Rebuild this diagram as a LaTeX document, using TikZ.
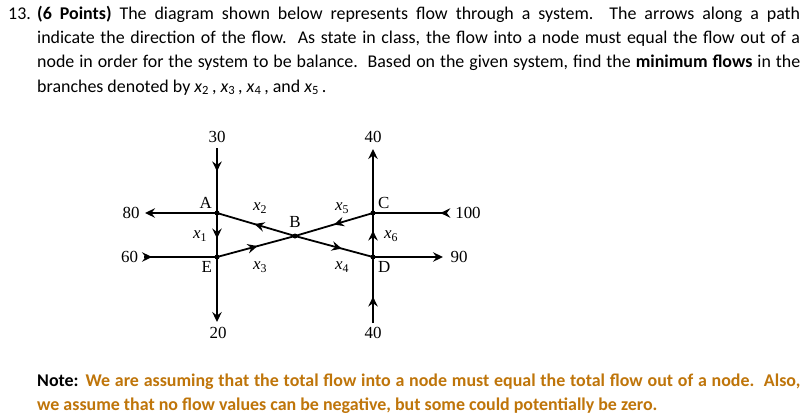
\documentclass[tikz,border=0pt]{standalone}
\usepackage{fontspec}
\setmainfont{Carlito}
\newfontfamily\diagfont{Liberation Serif}
\usepackage{xcolor}
\usetikzlibrary{arrows.meta,positioning,decorations.markings}
\definecolor{noteOrange}{RGB}{191,117,10}
\tikzstyle{junction}=[circle, fill, inner sep=0pt, minimum size=5bp]
\tikzstyle{flowline}=[line width=1.8bp]
\tikzstyle{flowlabel}=[font=\diagfont\fontsize{17}{17}\selectfont, inner sep=0pt]
\tikzstyle{qline}=[anchor=base west, inner sep=0pt, font=\fontsize{18}{22}\selectfont]
\tikzset{flowtip/.tip={Stealth[length=10bp,width=9.5bp,inset=3.5bp]}}
\tikzset{flowmark/.style={postaction={decorate,decoration={markings,mark=at position #1 with {\arrow{flowtip}}}}}}
\newcommand{\xvar}[1]{{\itshape x}\textsubscript{#1}}
\newcommand{\fullline}[1]{\makebox[763bp][s]{#1}}

\begin{document}
\begin{tikzpicture}[x=1bp,y=-1bp]
	\path[use as bounding box, fill=white] (0,0) rectangle (805,418);

	%%% question text
	\node[qline] (qNum) at (8,19.3) {13.};
	\node[qline] (qLine1) at (37,19.3) {\fullline{\textbf{(6 Points)} The diagram shown below represents flow through a system.\ \ The arrows along a path}};
	\node[qline] (qLine2) at (37,43.6) {\fullline{indicate the direction of the flow.\ \ As state in class, the flow into a node must equal the flow out of a}};
	\node[qline] (qLine3) at (37,67.9) {\fullline{node in order for the system to be balance.\ \ Based on the given system, find the \textbf{minimum flows} in the}};
	\node[qline] (qLine4) at (37,92.2) {branches denoted by \xvar{2}\,, \xvar{3}\,, \xvar{4}\,, and \xvar{5}\,.};

	%%% junctions
	\node[junction] (A) at (217,213) {};
	\node[junction] (B) at (295,236) {};
	\node[junction] (C) at (373,213) {};
	\node[junction] (D) at (373,257) {};
	\node[junction] (E) at (217,257) {};

	% free ends of the branches
	\coordinate (in30) at (217,148);
	\coordinate (out80) at (145,213);
	\coordinate (in60) at (144,257);
	\coordinate (out20) at (217,322);
	\coordinate (out40) at (373,149);
	\coordinate (in40) at (373,323);
	\coordinate (in100) at (447,213);
	\coordinate (out90) at (443,257);

	%%% outer branches
	\draw[flowline,flowmark=0.36] (in30) -- (A.center);
	\draw[flowline,-flowtip] (A.center) -- (out80);
	\draw[flowline,flowmark=0.11] (in60) -- (E.center);
	\draw[flowline,-flowtip] (E.center) -- (out20);
	\draw[flowline,-flowtip] (C.center) -- (out40);
	\draw[flowline,flowmark=0.4] (in40) -- (D.center);
	\draw[flowline,flowmark=0.09] (in100) -- (C.center);
	\draw[flowline,-flowtip] (D.center) -- (out90);

	%%% inner branches
	\draw[flowline,flowmark=0.58] (A.center) -- (E.center);
	\draw[flowline,flowmark=0.52] (B.center) -- (A.center);
	\draw[flowline,flowmark=0.52] (E.center) -- (B.center);
	\draw[flowline,flowmark=0.5] (C.center) -- (B.center);
	\draw[flowline,flowmark=0.6] (B.center) -- (D.center);
	\draw[flowline,flowmark=0.6] (D.center) -- (C.center);

	%%% junction names
	\node[flowlabel,above left=2bp and 3bp of A] (labA) {A};
	\node[flowlabel,above=6bp of B] (labB) {B};
	\node[flowlabel,above right=2bp and 3bp of C] (labC) {C};
	\node[flowlabel,below right=2bp and 3bp of D] (labD) {D};
	\node[flowlabel,below left=2bp and 3bp of E] (labE) {E};

	%%% flow values
	\node[flowlabel] (lab30) at (217,137) {30};
	\node[flowlabel] (lab80) at (131,213) {80};
	\node[flowlabel] (lab60) at (129.5,257) {60};
	\node[flowlabel] (lab20) at (218,333) {20};
	\node[flowlabel] (lab40top) at (373,137) {40};
	\node[flowlabel] (lab40bot) at (373,333) {40};
	\node[flowlabel] (lab100) at (468,213) {100};
	\node[flowlabel] (lab90) at (459,257) {90};

	%%% branch unknowns
	\node[flowlabel] (labx1) at (200,236) {\xvar{1}};
	\node[flowlabel] (labx2) at (260,208) {\xvar{2}};
	\node[flowlabel] (labx3) at (260,267) {\xvar{3}};
	\node[flowlabel] (labx4) at (342,267) {\xvar{4}};
	\node[flowlabel] (labx5) at (342,208) {\xvar{5}};
	\node[flowlabel] (labx6) at (391,236) {\xvar{6}};

	%%% note
	\node[qline] (note1) at (37,386.7) {\fullline{\textbf{Note: \color{noteOrange}We are assuming that the total flow into a node must equal the total flow out of a node.\ \ Also,}}};
	\node[qline] (note2) at (37,410) {\textbf{\color{noteOrange}we assume that no flow values can be negative, but some could potentially be zero.}};
\end{tikzpicture}
\end{document}
